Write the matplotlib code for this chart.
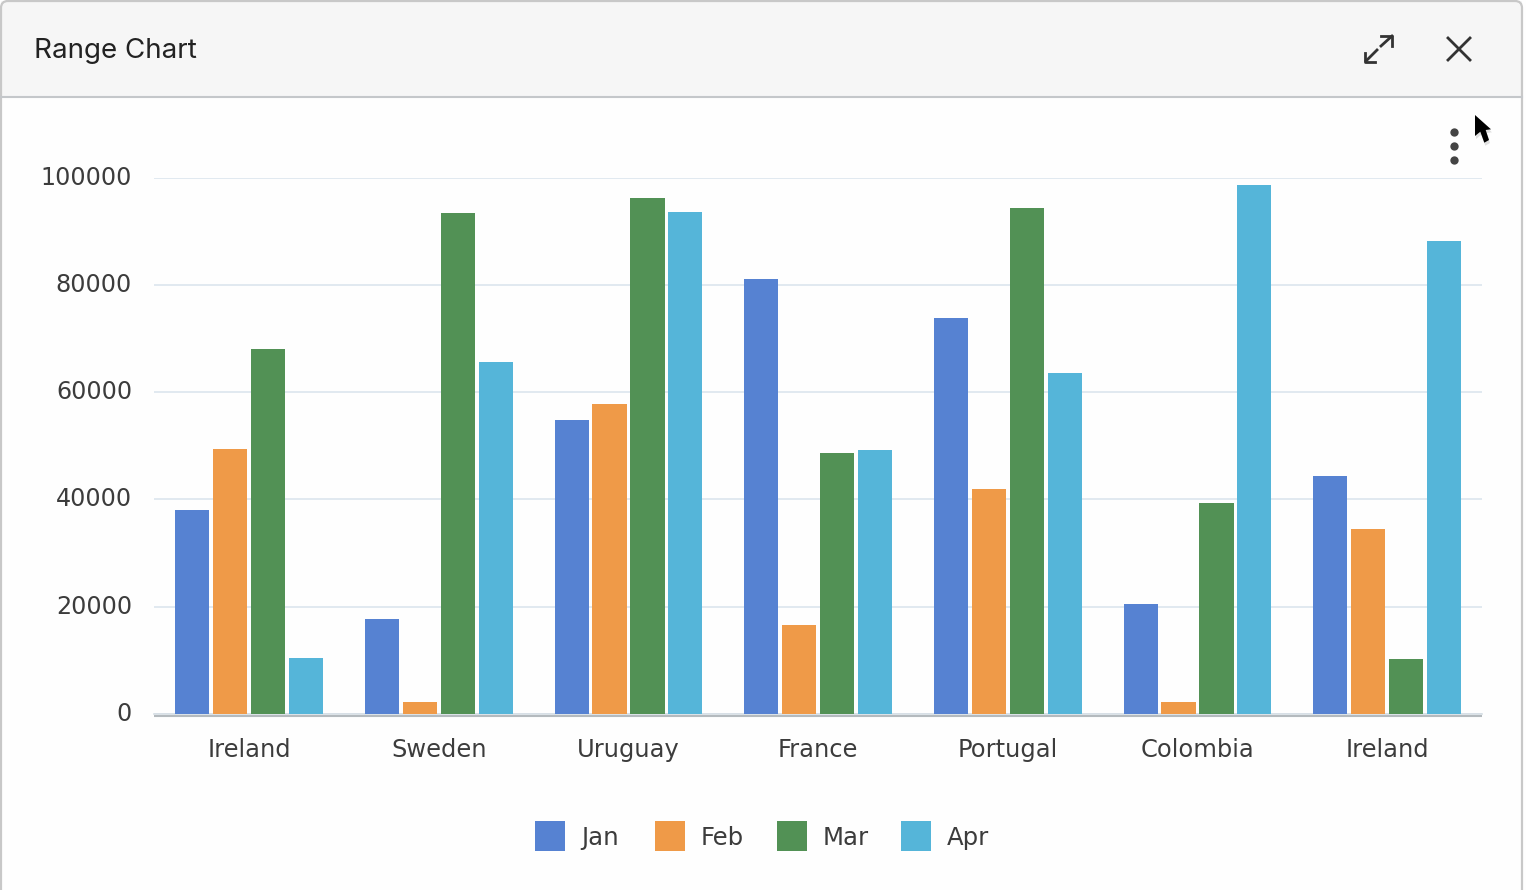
import numpy as np
import matplotlib
matplotlib.use("Agg")
import matplotlib.pyplot as plt
from matplotlib.patches import Rectangle, FancyBboxPatch
from matplotlib.transforms import ScaledTranslation

W = 1526
H = 890

countries = ["Ireland", "Sweden", "Uruguay", "France", "Portugal", "Colombia", "Ireland"]
months = ["Jan", "Feb", "Mar", "Apr"]
jan = [38000, 17700, 54800, 81100, 73800, 20500, 44300]
feb = [49400, 2300, 57800, 16600, 41900, 2300, 34500]
mar = [68100, 93400, 96200, 48600, 94400, 39300, 10300]
apr = [10400, 65600, 93600, 49200, 63600, 98700, 88200]
colors = ["#5682d2", "#ef9a48", "#529155", "#55b5d9"]
y_ticks = [0, 20000, 40000, 60000, 80000, 100000]

plt.rcParams["font.family"] = ["DejaVu Sans"]

fig = plt.figure(figsize=(W / 100, H / 100), dpi=100)
fig.patch.set_facecolor("#fefefe")

# pixel overlay for the window frame and icons
bg = fig.add_axes([0, 0, 1, 1])
bg.set_xlim(0, W)
bg.set_ylim(H, 0)
bg.axis("off")
bg.add_patch(Rectangle((1, 1), W - 5, 96, fc="#f6f6f6", ec="none"))
bg.plot([1, W - 4], [97, 97], color="#c4c7ca", lw=1.5)
bg.add_patch(FancyBboxPatch((1, 1), W - 5, H + 40, boxstyle="round,pad=0,rounding_size=7",
                            fc="none", ec="#c8c8c8", lw=1.6, clip_on=True))
bg.text(34, 51, "Range Chart", fontsize=20, color="#222222", va="center", ha="left", family="Inter")

# close icon
bg.plot([1448, 1470], [38, 60], color="#333333", lw=2)
bg.plot([1448, 1470], [60, 38], color="#333333", lw=2)
# expand icon
bg.plot([1366, 1377], [61, 50], color="#333333", lw=2)
bg.plot([1381, 1392], [46, 36], color="#333333", lw=2)
bg.plot([1381, 1392, 1392], [36, 36, 46], color="#333333", lw=2)
bg.plot([1365, 1365, 1375], [53, 62, 62], color="#333333", lw=2)
# menu dots
bg.scatter([1454, 1454, 1454], [132, 146, 160], s=36, color="#444444", lw=0)
# cursor
cx = np.array([1475, 1475, 1480.3, 1484.3, 1489, 1485.7, 1491])
cy = np.array([115, 136, 131.7, 142.7, 140, 130, 129.3])
bg.fill(cx + 1, cy + 3, color="#cccccc", alpha=0.6, lw=0)
bg.fill(cx, cy, color="black", lw=0)

ax = fig.add_axes([154.3 / W, 1 - 714 / H, (1482 - 154.3) / W, (714 - 177.7) / H])
ax.patch.set_alpha(0)

x = np.arange(len(countries))
series = [jan, feb, mar, apr]
for i in range(4):
    ax.bar(x + (i - 1.5) * 0.2, series[i], width=0.18, color=colors[i], label=months[i], zorder=3)

ax.set_xlim(-0.5, 6.5)
ax.set_ylim(0, 100000)
ax.set_yticks(y_ticks)
ax.set_xticks(x)
ax.set_xticklabels(countries)
ax.grid(axis="y", color="#d9e3ec", lw=1.1, zorder=0)
ax.set_axisbelow(True)
for s in ["top", "left", "right"]:
    ax.spines[s].set_visible(False)
ax.spines["bottom"].set_color("#d5dde4")
ax.spines["bottom"].set_linewidth(1.2)
ax.tick_params(axis="y", length=0, labelsize=17.2, labelcolor="#3c3c3c", pad=16)
ax.tick_params(axis="x", length=0, labelsize=17.4, labelcolor="#3c3c3c", pad=17)

# y labels sit a little above their gridlines
shift = ScaledTranslation(0, 2.5 / 100, fig.dpi_scale_trans)
for lab in ax.get_yticklabels():
    lab.set_transform(lab.get_transform() + shift)

# darker band under the baseline
bg.plot([154, 1482], [716, 716], color="#b4babe", lw=1.5, solid_capstyle="butt")

# legend
lx = [535, 655, 777, 901]
for i in range(4):
    bg.add_patch(Rectangle((lx[i], 821), 30, 30, fc=colors[i], ec="none"))
    bg.text(lx[i] + 46, 838, months[i], fontsize=17.6, color="#3c3c3c", va="center", ha="left")

fig.savefig("out.png", dpi=100)
